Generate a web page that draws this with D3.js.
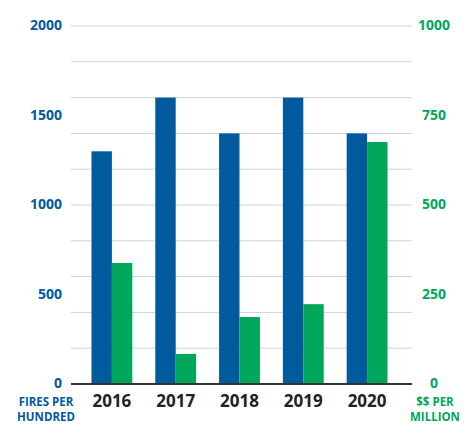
<!DOCTYPE html>
<html><head><meta charset="utf-8">
<script src="https://cdn.jsdelivr.net/npm/d3@7"></script>
<style>body{margin:0;background:#fff}text{font-family:"Open Sans",sans-serif;font-weight:700}</style>
</head><body><svg id="c" width="474" height="433"></svg>
<script>
const years = ["2016","2017","2018","2019","2020"];
const fires = [1300,1600,1400,1600,1400];
const dollars = [338,84,187,223,676];
const leftTicks = [0,500,1000,1500,2000];
const rightTicks = [0,250,500,750,1000];
const gridTicks = [0,200,400,600,800,1000,1200,1400,1600,1800,2000];
const BLUE="#005a9c", GREEN="#00a65a";
const svg=d3.select("#c");
const x0=71,x1=412,yTop=26,yBot=384;
const x=d3.scaleBand().domain(years).range([80,399]).paddingInner(0.36).paddingOuter(0.18);
const sub=d3.scaleBand().domain(["f","d"]).range([0,x.bandwidth()]);
const yL=d3.scaleLinear().domain([0,2000]).range([yBot,yTop]);
const yR=d3.scaleLinear().domain([0,1000]).range([yBot,yTop]);
svg.append("g").selectAll("line").data(gridTicks.slice(1)).join("line")
 .attr("x1",x0).attr("x2",x1).attr("y1",d=>yL(d)).attr("y2",d=>yL(d))
 .attr("stroke","#cfd3d6").attr("stroke-width",1);
svg.append("g").selectAll("rect").data(years).join("rect")
 .attr("x",d=>x(d)+sub("f")).attr("width",sub.bandwidth())
 .attr("y",(d,i)=>yL(fires[i])).attr("height",(d,i)=>yBot-yL(fires[i])).attr("fill",BLUE);
svg.append("g").selectAll("rect").data(years).join("rect")
 .attr("x",d=>x(d)+sub("d")).attr("width",sub.bandwidth())
 .attr("y",(d,i)=>yR(dollars[i])).attr("height",(d,i)=>yBot-yR(dollars[i])).attr("fill",GREEN);
svg.append("line").attr("x1",x0).attr("x2",x1).attr("y1",yBot).attr("y2",yBot).attr("stroke","#333").attr("stroke-width",2);
svg.append("g").selectAll("text").data(leftTicks).join("text")
 .attr("x",62).attr("y",d=>yL(d)+4).attr("text-anchor","end").attr("fill",BLUE).attr("font-size",14).text(d=>d);
svg.append("g").selectAll("text").data(rightTicks).join("text")
 .attr("x",434).attr("y",d=>yR(d)+4).attr("text-anchor","middle").attr("fill",GREEN).attr("font-size",14).text(d=>d);
svg.append("g").selectAll("text").data(years).join("text")
 .attr("x",d=>x(d)+x.bandwidth()/2).attr("y",407).attr("text-anchor","middle").attr("fill","#222").attr("font-size",17).text(d=>d);
const lt=svg.append("text").attr("fill",BLUE).attr("font-size",11.5).attr("text-anchor","middle");
lt.append("tspan").attr("x",46).attr("y",406).text("FIRES PER");
lt.append("tspan").attr("x",46).attr("y",421).text("HUNDRED");
const rt=svg.append("text").attr("fill",GREEN).attr("font-size",11.5).attr("text-anchor","middle");
rt.append("tspan").attr("x",435).attr("y",406).text("$$ PER");
rt.append("tspan").attr("x",435).attr("y",421).text("MILLION");
</script></body></html>
